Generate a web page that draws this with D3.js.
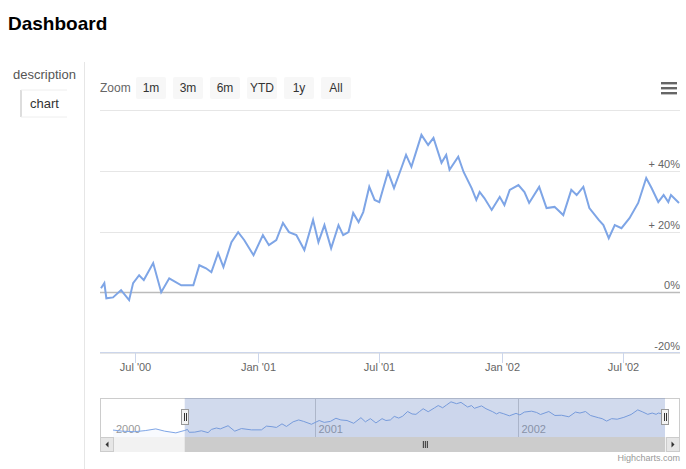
<!DOCTYPE html>
<html><head><meta charset="utf-8">
<script src="https://cdn.jsdelivr.net/npm/d3@7/dist/d3.min.js"></script>
<style>body{margin:0;background:#fff;font-family:"Liberation Sans",Arial,sans-serif}</style>
</head><body><svg id="c" width="686" height="469"></svg>
<script>
const dates=["2000-05-11","2000-05-16","2000-05-19","2000-05-29","2000-06-10","2000-06-22","2000-06-28","2000-07-07","2000-07-14","2000-07-28","2000-08-09","2000-08-21","2000-09-08","2000-09-26","2000-10-05","2000-10-15","2000-10-23","2000-11-02","2000-11-10","2000-11-22","2000-12-02","2000-12-11","2000-12-25","2001-01-08","2001-01-17","2001-01-28","2001-02-07","2001-02-16","2001-02-27","2001-03-11","2001-03-24","2001-04-01","2001-04-10","2001-04-20","2001-05-01","2001-05-08","2001-05-16","2001-05-23","2001-05-31","2001-06-07","2001-06-16","2001-06-24","2001-07-01","2001-07-07","2001-07-14","2001-07-23","2001-08-03","2001-08-10","2001-08-18","2001-08-25","2001-09-02","2001-09-12","2001-09-20","2001-10-02","2001-10-09","2001-10-14","2001-10-27","2001-11-04","2001-11-16","2001-11-23","2001-11-28","2001-12-05","2001-12-16","2001-12-28","2002-01-04","2002-01-12","2002-01-25","2002-02-03","2002-02-10","2002-02-25","2002-03-08","2002-03-20","2002-04-02","2002-04-14","2002-04-22","2002-05-02","2002-05-11","2002-05-25","2002-06-01","2002-06-09","2002-06-18","2002-06-28","2002-07-10","2002-07-23","2002-08-04","2002-08-12","2002-08-22","2002-08-30","2002-09-06","2002-09-10","2002-09-22"];
const values=[1.3,3,-2,-1.7,0.7,-2.6,3,5.6,4,9.6,0,4.6,2.3,2.3,8.9,7.9,6.6,12.9,8.3,16.5,19.8,17.2,12.2,18.8,15.5,17.2,22.8,19.8,18.8,13.9,23.8,16.5,22.1,14.5,22.1,18.8,19.8,26.1,23.1,26.4,34.7,30.4,29.7,34.3,39.6,34.3,40.9,45.2,41.3,46.2,51.8,48.5,50.8,42.6,45.2,40.3,44.6,39.6,34.3,30.4,33,31,27.1,31.4,28.7,33.7,35.3,33,29.4,34.7,27.7,28.1,25.4,33.7,32,34.7,27.7,23.8,22.1,17.8,22.1,21.1,24.4,29.4,37.6,34.3,29.7,32,29.7,32,29.4];
const earlyDates=["2000-01-03","2000-01-20","2000-02-10","2000-03-01","2000-03-20","2000-04-05","2000-04-25"];
const earlyValues=[2,0,-1,1,4,0,-3];
const yTicks=[-20,0,20,40,60];
const xTickDates=["2000-07-01","2001-01-01","2001-07-01","2002-01-01","2002-07-01"];
const xTickLabels=["Jul '00","Jan '01","Jul '01","Jan '02","Jul '02"];
const navYears=["2000-01-01","2001-01-01","2002-01-01"];
const zoomButtons=["1m","3m","6m","YTD","1y","All"];

const P=d3.timeParse("%Y-%m-%d");
const data=dates.map((d,i)=>({d:P(d),v:values[i]}));
const navData=earlyDates.map((d,i)=>({d:P(d),v:earlyValues[i]})).concat(data);
const svg=d3.select("#c");
svg.append("text").attr("x",8).attr("y",30).attr("font-size",19).attr("font-weight","bold").attr("fill","#000").text("Dashboard");
svg.append("text").attr("x",13).attr("y",79).attr("font-size",13).attr("fill","#555").text("description");
svg.append("rect").attr("x",20).attr("y",90).attr("width",47).attr("height",27).attr("fill","#fff");
svg.append("line").attr("x1",21).attr("x2",21).attr("y1",90).attr("y2",117).attr("stroke","#ddd").attr("stroke-width",2);
svg.append("line").attr("x1",21).attr("x2",67).attr("y1",90).attr("y2",90).attr("stroke","#eee");
svg.append("line").attr("x1",21).attr("x2",67).attr("y1",117).attr("y2",117).attr("stroke","#eee");
svg.append("text").attr("x",30).attr("y",108).attr("font-size",13).attr("fill","#333").text("chart");
svg.append("line").attr("x1",84.5).attr("x2",84.5).attr("y1",62).attr("y2",469).attr("stroke","#e6e6e6");

// range selector
svg.append("text").attr("x",100).attr("y",92).attr("font-size",12).attr("fill","#666").text("Zoom");
zoomButtons.forEach((b,i)=>{const x=136+i*37;
 svg.append("rect").attr("x",x).attr("y",77).attr("width",30).attr("height",22).attr("rx",2).attr("fill","#f7f7f7");
 svg.append("text").attr("x",x+15).attr("y",92).attr("text-anchor","middle").attr("font-size",12).attr("fill","#333").text(b);});
[0,5,10].forEach(o=>svg.append("rect").attr("x",661).attr("y",82+o).attr("width",16).attr("height",2.4).attr("fill","#666"));

const x=d3.scaleTime().domain([P("2000-05-11"),P("2002-09-22")]).range([101,679]);
const y=d3.scaleLinear().domain([-20,60]).range([353,110]);
const g=svg.append("g");
yTicks.forEach(t=>{g.append("line").attr("x1",100).attr("x2",680).attr("y1",Math.round(y(t))+0.5).attr("y2",Math.round(y(t))+0.5).attr("stroke",t===0?"#bbb":"#e6e6e6").attr("stroke-width",t===0?1.5:1);
 if(t<60)g.append("text").attr("x",680).attr("y",Math.round(y(t))-3).attr("text-anchor","end").attr("font-size",11).attr("fill","#666").text(t>0?"+ "+t+"%":t+"%");});
g.append("line").attr("x1",100).attr("x2",680).attr("y1",352.5).attr("y2",352.5).attr("stroke","#ccd6eb");
xTickDates.forEach((d,i)=>{const xx=Math.round(x(P(d)))+0.5;
 g.append("line").attr("x1",xx).attr("x2",xx).attr("y1",353).attr("y2",363).attr("stroke","#ccd6eb");
 g.append("text").attr("x",xx).attr("y",371).attr("text-anchor","middle").attr("font-size",11).attr("fill","#666").text(xTickLabels[i]);});
g.append("path").datum(data).attr("d",d3.line().x(d=>x(d.d)).y(d=>y(d.v))).attr("fill","none").attr("stroke","#7ea5e6").attr("stroke-width",2);

// navigator
const nx=d3.scaleTime().domain([P("2000-01-03"),P("2002-09-22")]).range([113,665]);
const ny=d3.scaleLinear().domain([-5,55]).range([434,400]);
const ng=svg.append("g");
ng.append("rect").attr("x",100.5).attr("y",398.5).attr("width",579).attr("height",39).attr("fill","none").attr("stroke","#ccc");
navYears.forEach(d=>{const xx=Math.round(nx(P(d)))+0.5;
 if(xx>120) ng.append("line").attr("x1",xx).attr("x2",xx).attr("y1",398).attr("y2",437).attr("stroke","#ccc");
 ng.append("text").attr("x",Math.max(xx,113)+3).attr("y",433).attr("font-size",11).attr("fill","#999").text(d.slice(0,4));});
ng.append("path").datum(navData).attr("d",d3.area().x(d=>nx(d.d)).y0(437).y1(d=>ny(d.v))).attr("fill","rgba(126,165,230,0.05)");
ng.append("path").datum(navData).attr("d",d3.line().x(d=>nx(d.d)).y(d=>ny(d.v))).attr("fill","none").attr("stroke","#7ea5e6").attr("stroke-width",1);
const m0=nx(P("2000-05-11")),m1=nx(P("2002-09-22"));
ng.append("rect").attr("x",m0).attr("y",398).attr("width",m1-m0).attr("height",39).attr("fill","rgba(102,133,194,0.3)");
[m0,m1].forEach(h=>{ng.append("rect").attr("x",Math.round(h)-3.5).attr("y",409.5).attr("width",7).attr("height",15).attr("fill","#f2f2f2").attr("stroke","#999");
 [-1,1].forEach(o=>ng.append("line").attr("x1",Math.round(h)+o+0.5).attr("x2",Math.round(h)+o+0.5).attr("y1",413).attr("y2",421).attr("stroke","#333"));});
// scrollbar
ng.append("rect").attr("x",100).attr("y",437).attr("width",580).attr("height",15).attr("fill","#f2f2f2");
ng.append("rect").attr("x",m0).attr("y",437).attr("width",m1-m0).attr("height",15).attr("fill","#ccc");
[-2,0,2].forEach(o=>ng.append("line").attr("x1",(m0+m1)/2+o+0.5).attr("x2",(m0+m1)/2+o+0.5).attr("y1",441).attr("y2",448).attr("stroke","#333"));
[[100,-1],[666,1]].forEach(([bx,dir])=>{ng.append("rect").attr("x",bx+0.5).attr("y",437.5).attr("width",13).attr("height",14).attr("fill","#e6e6e6").attr("stroke","#ccc");
 const cx=bx+7;ng.append("path").attr("d",dir<0?`M${cx+1.5},441.5L${cx-1.5},444.5L${cx+1.5},447.5Z`:`M${cx-1.5},441.5L${cx+1.5},444.5L${cx-1.5},447.5Z`).attr("fill","#333");});
svg.append("text").attr("x",680).attr("y",461).attr("text-anchor","end").attr("font-size",9).attr("fill","#999").text("Highcharts.com");
</script></body></html>
